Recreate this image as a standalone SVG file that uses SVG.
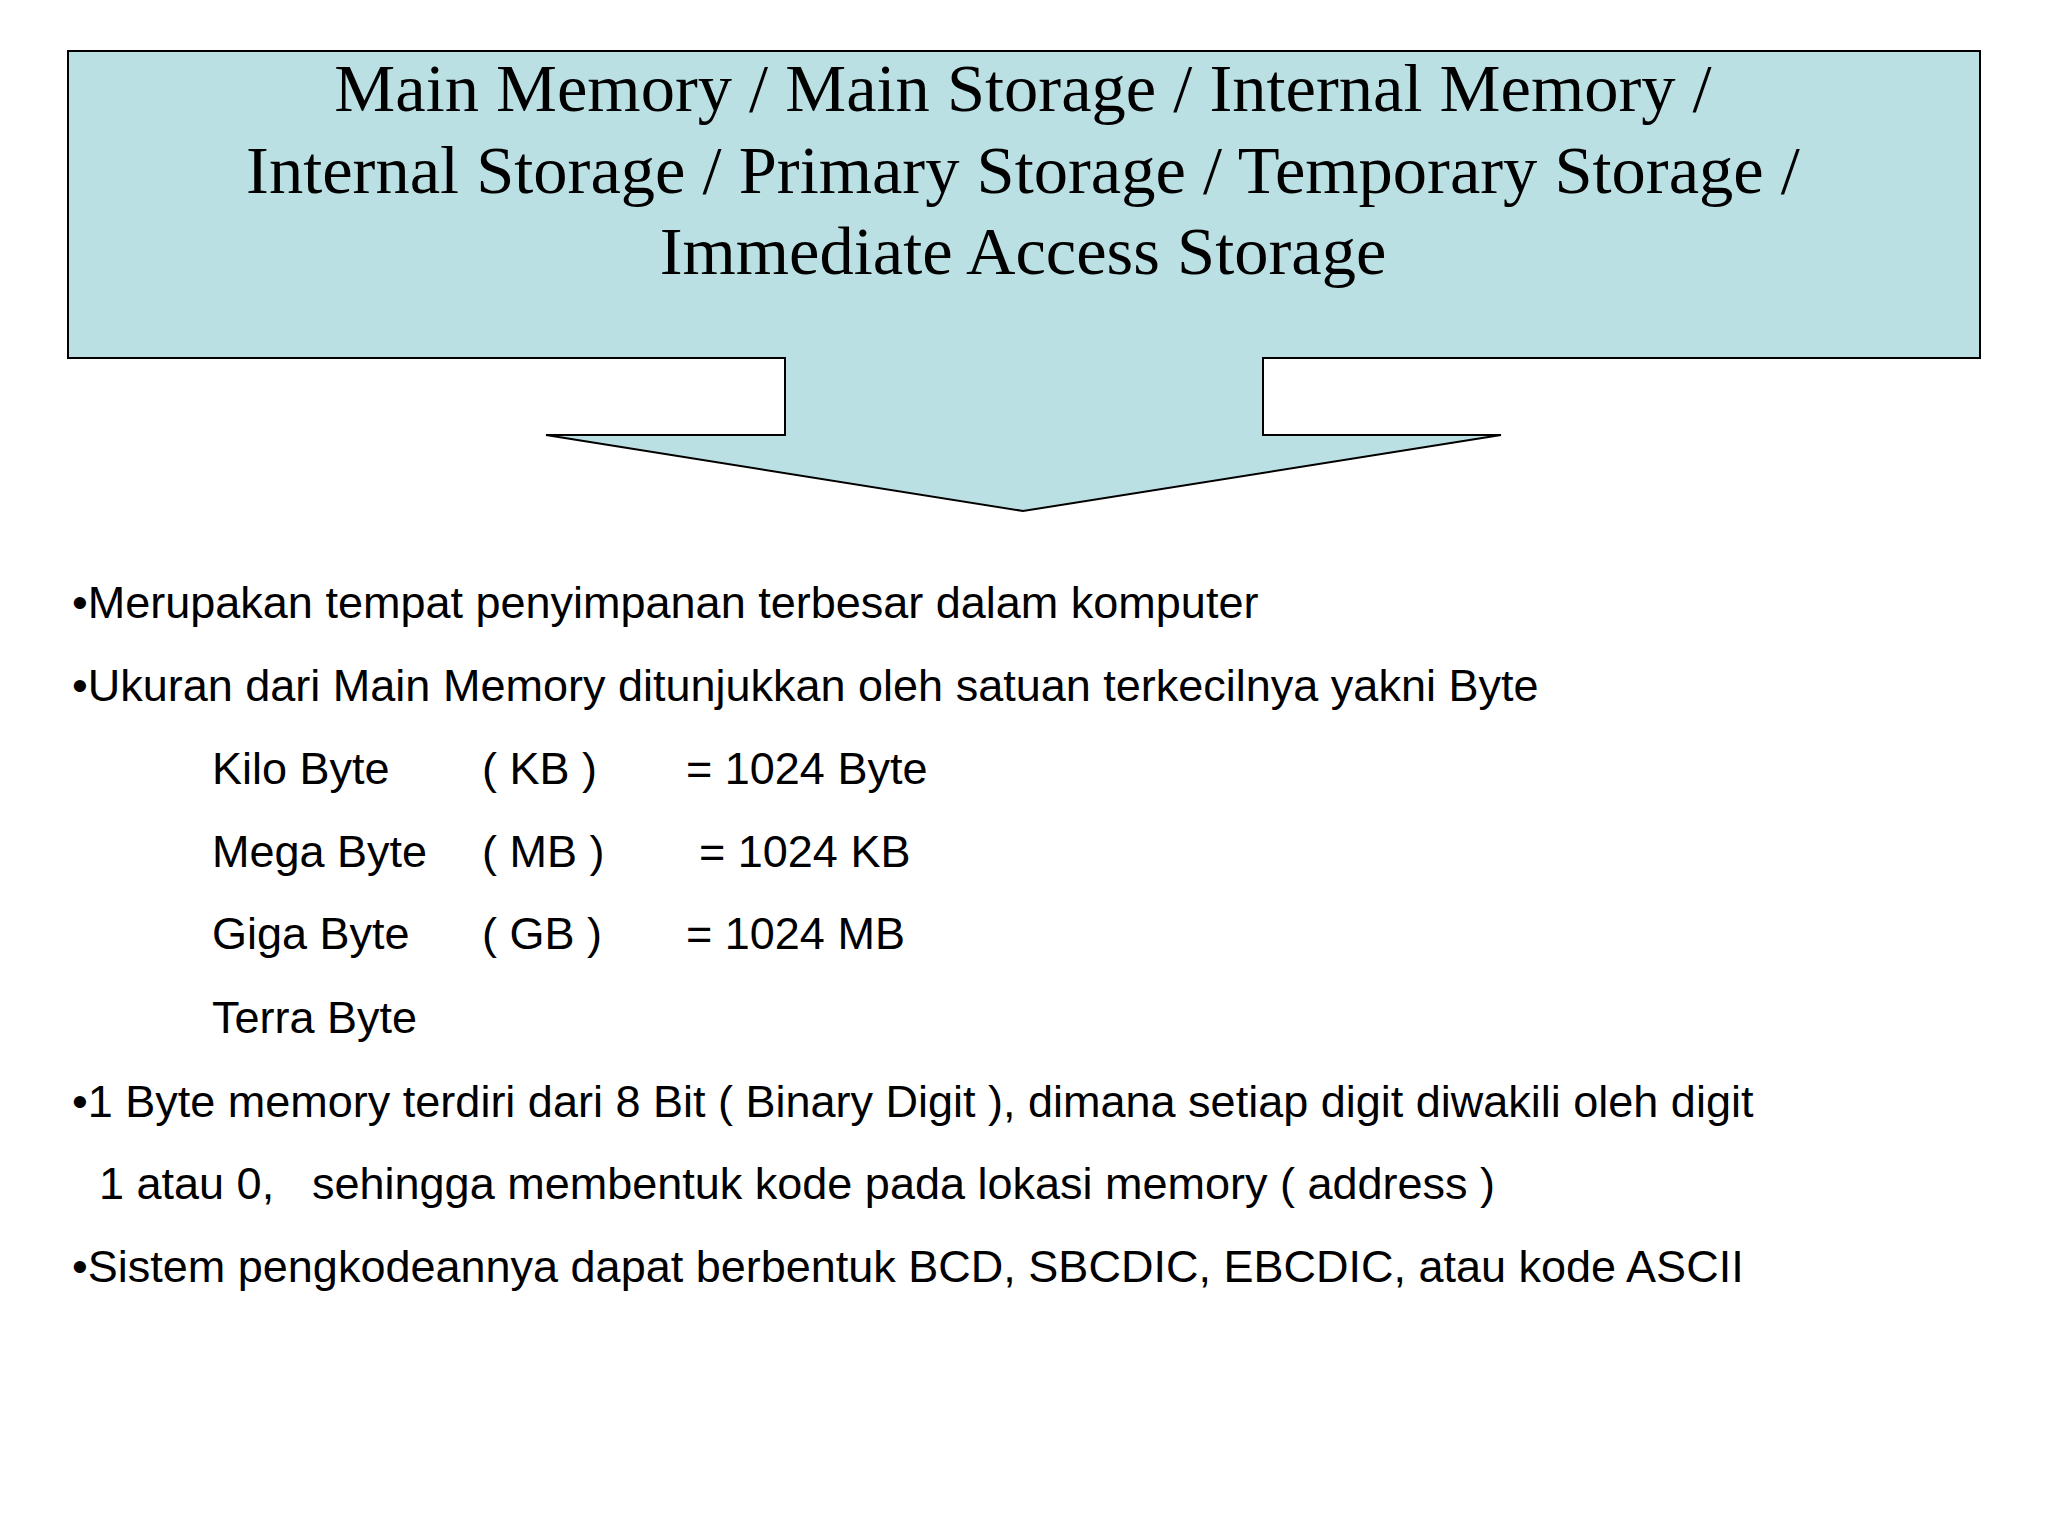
<svg xmlns="http://www.w3.org/2000/svg" width="2048" height="1536" viewBox="0 0 2048 1536">
<style>
.t{font-family:"Liberation Serif",serif;font-size:68.5px;fill:#000;text-anchor:middle}
.b{font-family:"Liberation Sans",Arial,sans-serif;font-size:45px;fill:#000}
</style>
<rect width="2048" height="1536" fill="#fff"/>
<g id="header">
<path d="M68,51 H1980 V358 H1263 V435 H1501 L1023,511 L546,435 H785 V358 H68 Z" fill="#BBE0E3" stroke="#000" stroke-width="2"/>
<text class="t" x="1023" y="111">Main Memory / Main Storage / Internal Memory /</text>
<text class="t" x="1023" y="193">Internal Storage / Primary Storage / Temporary Storage /</text>
<text class="t" x="1023" y="274">Immediate Access Storage</text>
</g>
<g id="body">
<text class="b" x="72" y="618">•Merupakan tempat penyimpanan terbesar dalam komputer</text>
<text class="b" x="72" y="701">•Ukuran dari Main Memory ditunjukkan oleh satuan terkecilnya yakni Byte</text>
<text class="b" x="212" y="784">Kilo Byte</text><text class="b" x="482" y="784">( KB )</text><text class="b" x="686" y="784">= 1024 Byte</text>
<text class="b" x="212" y="867">Mega Byte</text><text class="b" x="482" y="867">( MB )</text><text class="b" x="699" y="867">= 1024 KB</text>
<text class="b" x="212" y="949">Giga Byte</text><text class="b" x="482" y="949">( GB )</text><text class="b" x="686" y="949">= 1024 MB</text>
<text class="b" x="212" y="1033">Terra Byte</text>
<text class="b" x="72" y="1117">•1 Byte memory terdiri dari 8 Bit ( Binary Digit ), dimana setiap digit diwakili oleh digit</text>
<text class="b" x="99" y="1199">1 atau 0,</text><text class="b" x="312" y="1199">sehingga membentuk kode pada lokasi memory ( address )</text>
<text class="b" x="72" y="1282">•Sistem pengkodeannya dapat berbentuk BCD, SBCDIC, EBCDIC, atau kode ASCII</text>
</g>
</svg>
